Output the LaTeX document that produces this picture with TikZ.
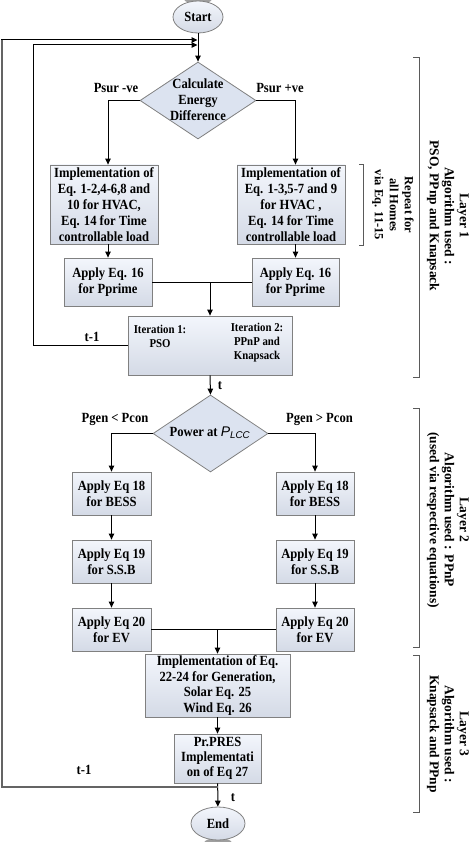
\documentclass[tikz,border=0pt]{standalone}
\usepackage{fontspec}
\setmainfont{Liberation Serif}[FakeStretch=0.9]
\newfontfamily\rotfont{Liberation Serif}
\newfontfamily\sansit{Liberation Sans}
\usetikzlibrary{shapes.geometric,arrows.meta}
\definecolor{bordergray}{RGB}{128,128,128}
\definecolor{boxtop}{RGB}{243,246,252}
\definecolor{boxbot}{RGB}{212,218,230}
\definecolor{diafill}{RGB}{220,227,240}
\definecolor{loopgray}{RGB}{100,100,100}
\definecolor{brkgray}{RGB}{90,90,90}
\begin{document}
\begin{tikzpicture}[x=1pt,y=-1pt,
  box/.style={draw=bordergray, line width=0.8pt, top color=boxtop, bottom color=boxbot,
    inner sep=0pt, align=center, font=\fontsize{14}{16}\selectfont\bfseries},
  term/.style={ellipse, draw=bordergray, line width=0.8pt, top color=boxtop, bottom color=boxbot,
    inner sep=0pt, font=\fontsize{14}{16}\selectfont\bfseries},
  dia/.style={diamond, draw=bordergray, line width=0.8pt, fill=diafill, inner sep=0pt},
  diatext/.style={align=center, inner sep=0pt, font=\fontsize{14}{16}\selectfont\bfseries},
  itx/.style={align=center, inner sep=0pt, font=\fontsize{12}{13.8}\selectfont\bfseries},
  lbl/.style={inner sep=0pt, font=\fontsize{14}{16}\selectfont\bfseries},
  rot/.style={align=center, inner sep=0pt, rotate=-90, font=\rotfont\fontsize{13.5}{15}\selectfont\bfseries},
  rotsm/.style={align=center, inner sep=0pt, rotate=-90, font=\rotfont\fontsize{12.5}{15}\selectfont\bfseries},
  conn/.style={draw=black, line width=1pt},
  arr/.style={conn, -{Triangle[length=6pt,width=5.5pt]}},
  outer/.style={draw=loopgray, line width=2pt},
  brk/.style={draw=brkgray, line width=0.9pt}
]
\useasboundingbox (0,0) rectangle (474,842);

% shadows of terminals
\fill[gray!75] (198,-1) ellipse [x radius=14pt, y radius=5pt];
\fill[gray!75] (218,843) ellipse [x radius=14pt, y radius=5pt];

% terminals
\node[term, minimum width=50pt, minimum height=32pt] (start) at (198,17) {Start};
\node[term, minimum width=54pt, minimum height=33pt] (end) at (218,823.5) {End};

% first decision
\node[dia, minimum width=116pt, minimum height=77pt] (d1) at (198,100.5) {};
\node[diatext] (d1t) at (198,100) {Calculate\\Energy\\Difference};

% implementation boxes
\node[box, minimum width=108pt, minimum height=79pt] (impl1) at (104,204.5)
  {Implementation of\\Eq. 1-2,4-6,8 and\\10 for HVAC,\\Eq. 14 for Time\\controllable load};
\node[box, minimum width=108pt, minimum height=79pt] (impl2) at (291,204.5)
  {Implementation of\\Eq. 1-3,5-7 and 9\\for HVAC ,\\Eq. 14 for Time\\controllable load};

\node[box, minimum width=88pt, minimum height=48pt] (ap1) at (108,282) {Apply Eq. 16\\for Pprime};
\node[box, minimum width=87pt, minimum height=48pt] (ap2) at (295.5,282) {Apply Eq. 16\\for Pprime};

% iteration
\node[box, minimum width=164pt, minimum height=59pt] (iter) at (210,345.5) {};
\node[itx] (it1) at (160,336.5) {Iteration 1:\\PSO};
\node[itx] (it2) at (257,342.5) {Iteration 2:\\PPnP and\\Knapsack};

% second decision
\node[dia, minimum width=115pt, minimum height=77pt] (d2) at (210.5,433.5) {};
\node[diatext] (d2t) at (210,433) {Power at {\sansit\mdseries\itshape P\textsubscript{LCC}}};

% layer 2 boxes
\node[box, minimum width=79pt, minimum height=43pt] (bess1) at (111.5,493.5) {Apply Eq 18\\for BESS};
\node[box, minimum width=78pt, minimum height=43pt] (bess2) at (315,493.5) {Apply Eq 18\\for BESS};
\node[box, minimum width=79pt, minimum height=43pt] (ssb1) at (111.5,561.5) {Apply Eq 19\\for S.S.B};
\node[box, minimum width=78pt, minimum height=43pt] (ssb2) at (315,561.5) {Apply Eq 19\\for S.S.B};
\node[box, minimum width=79pt, minimum height=43pt] (ev1) at (111.5,629.5) {Apply Eq 20\\for EV};
\node[box, minimum width=78pt, minimum height=43pt] (ev2) at (315,629.5) {Apply Eq 20\\for EV};

% layer 3 boxes
\node[box, minimum width=145pt, minimum height=63pt, font=\fontsize{14}{15.5}\selectfont\bfseries] (gen) at (217.5,685.5)
  {Implementation of Eq.\\22-24 for Generation,\\Solar Eq. 25\\Wind Eq. 26};
\node[box, minimum width=87pt, minimum height=49pt, font=\fontsize{14}{15}\selectfont\bfseries] (pres) at (217.5,758.5)
  {Pr.PRES\\Implementati\\on of Eq 27};

% labels
\node[lbl] (lpsn) at (116,88) {Psur -ve};
\node[lbl] (lpsp) at (280,88) {Psur +ve};
\node[lbl] (lgl) at (115,419) {Pgen < Pcon};
\node[lbl] (lgg) at (319.5,419) {Pgen > Pcon};
\node[lbl] (lt1) at (92,337) {t-1};
\node[lbl] (lt) at (220,386) {t};
\node[lbl] (lt2) at (84,770) {t-1};
\node[lbl] (lt3) at (233,798) {t};

% side annotations
\node[rotsm] (rep) at (393,205) {Repeat for\\all Homes\\via Eq. 11-15};
\node[rot] (lay1) at (448,216) {Layer 1\\Algorithm used :\\PSO, PPnp and Knapsack};
\node[rot] (lay2) at (448,520) {Layer 2\\Algorithm used : PPnP\\(used via respective equations)};
\node[rot] (lay3) at (448,734) {Layer 3\\Algorithm used :\\Knapsack and PPnp};

\draw[brk] (359,164) -- (363,164) -- (363,245) -- (359,245);
\draw[brk] (413,57) -- (419.5,57) -- (419.5,377) -- (413,377);
\draw[brk] (413,408) -- (419.5,408) -- (419.5,647) -- (413,647);
\draw[brk] (413,655) -- (419.5,655) -- (419.5,812) -- (413,812);

% coordinates for joins
\coordinate (j1) at (197.5,40);
\coordinate (j2) at (197.5,45);
\coordinate (lp) at (217.5,787);

% connectors
\draw[arr] (start) -- (d1);
\draw[arr] (d1.west) -| (ap1 |- impl1.north);
\draw[arr] (d1.east) -| (ap2 |- impl2.north);
\draw[arr] (ap1 |- impl1.south) -- (ap1.north);
\draw[arr] (ap2 |- impl2.south) -- (ap2.north);
\draw[conn] (ap1.east) -- (ap2.west);
\draw[arr] (iter.north |- ap1.east) -- (iter.north);
\draw[arr] (iter.south) -- (d2.north);
\draw[arr] (d2.west) -| (bess1.north);
\draw[arr] (d2.east) -| (bess2.north);
\draw[arr] (bess1) -- (ssb1);
\draw[arr] (bess2) -- (ssb2);
\draw[arr] (ssb1) -- (ev1);
\draw[arr] (ssb2) -- (ev2);
\draw[conn] (ev1.east) -- (ev2.west);
\draw[arr] (gen.north |- ev1.east) -- (gen.north);
\draw[arr] (gen) -- (pres);
\draw[arr] (pres) -- (end);

% feedback loops
\draw[conn] (iter.west) -- (33,345.5) -- (33,45);
\draw[arr] (33,45) -- (j2);
\draw[outer] (lp) -- (2,787) -- (2,40);
\draw[arr] (1,40) -- (j1);
\end{tikzpicture}
\end{document}
